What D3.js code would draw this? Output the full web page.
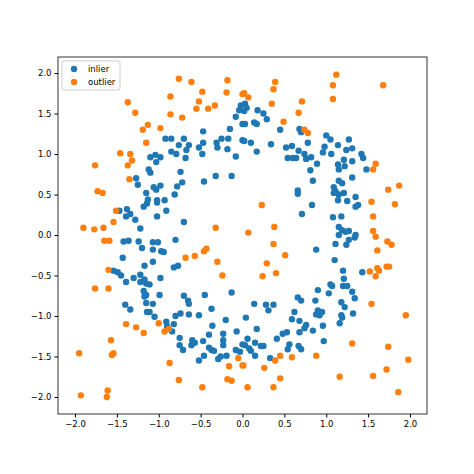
<!DOCTYPE html>
<html>
<head>
<meta charset="utf-8">
<script src="https://cdn.jsdelivr.net/npm/d3@7"></script>
<style>
  body { margin: 0; background: #fff; }
  text { font-family: "DejaVu Sans", sans-serif; }
</style>
</head>
<body>
<svg width="474" height="474"></svg>
<script>
// inlier punten [x, y]
var inliers = [
  [-0.47,1.28],[-0.92,1.19],[-0.85,1.19],[-0.70,1.19],[-0.76,1.11],[-0.64,1.11],[-0.85,1.03],[-0.79,1.00],
  [-0.67,1.05],[-0.52,1.08],[-0.47,1.14],[-0.31,1.14],[-0.25,1.19],[-0.17,1.19],[-0.30,1.08],[-0.18,1.06],
  [-0.48,1.00],[-0.68,0.95],[-1.04,0.99],[-1.10,0.96],[-0.98,0.96],[-1.03,0.90],[-1.12,0.81],[-1.10,0.77],
  [-0.74,0.78],[-1.27,0.70],[-1.25,0.62],[-0.72,0.65],[-0.78,0.60],[-1.06,0.59],[-0.98,0.61],[-1.03,0.56],
  [-1.15,0.52],[-0.81,0.50],[-1.13,0.44],[-1.02,0.43],[-1.02,0.40],[-0.93,0.43],[-1.18,0.35],[-1.14,0.39],
  [-0.91,0.30],[-1.38,0.32],[-1.47,0.30],[-1.39,0.23],[-1.34,0.26],[-1.28,0.19],[-1.02,0.23],[-0.70,0.16],
  [-1.22,0.08],[-0.32,0.73],[-0.13,0.73],[-0.46,0.66],[-0.08,0.97],[-0.15,1.31],[-0.08,1.46],[-0.04,1.54],
  [-0.02,1.60],[0.00,1.37],[0.00,1.17],
  [0.03,1.62],[0.05,1.57],[0.02,1.53],[0.03,1.37],[0.18,1.54],[0.25,1.50],[0.29,1.43],[0.14,1.39],[0.17,1.37],
  [0.02,1.16],[0.10,1.14],[0.17,1.03],[0.34,1.12],[0.45,1.30],[0.68,1.31],[0.70,1.27],[0.78,1.14],[0.52,1.08],
  [0.59,1.10],[0.67,1.04],[0.74,1.00],[0.82,0.96],[0.76,0.94],[0.54,0.95],[0.60,0.95],[0.64,0.95],[0.89,0.88],
  [0.81,0.80],[0.84,0.67],[1.00,1.23],[1.05,1.18],[0.98,1.09],[0.96,1.02],[1.06,1.00],[1.14,1.11],[1.27,1.18],
  [1.24,1.05],[1.31,1.07],[1.42,1.00],[1.44,0.95],[1.14,0.87],[1.21,0.93],[1.22,0.85],[1.15,0.81],[1.31,0.91],
  [1.31,0.71],[1.48,0.81],[1.15,0.67],[1.19,0.64],[1.09,0.59],[1.11,0.54],[1.09,0.52],[1.21,0.52],[1.15,0.50],
  [1.14,0.43],[1.25,0.42],[1.35,0.47],[1.38,0.37],[1.35,0.35],[0.66,0.55],[0.66,0.51],[0.83,0.37],[0.71,0.26],
  [1.08,0.22],[1.18,0.23],[1.15,0.10],[1.19,0.06],[1.27,0.05],[1.35,0.00],[1.23,0.04],
  [-1.42,-0.08],[-1.36,-0.07],[-1.24,-0.08],[-1.07,-0.09],[-1.01,-0.09],[-1.20,-0.16],[-1.07,-0.18],[-0.97,-0.20],
  [-0.94,-0.21],[-0.80,-0.06],[-1.43,-0.28],[-1.07,-0.33],[-1.17,-0.38],[-0.82,-0.40],[-0.77,-0.38],[-1.54,-0.44],
  [-1.49,-0.46],[-1.45,-0.50],[-1.22,-0.49],[-1.30,-0.53],[-0.98,-0.53],[-1.39,-0.58],[-1.22,-0.58],[-1.17,-0.55],
  [-1.15,-0.60],[-1.11,-0.61],[-1.18,-0.69],[-1.17,-0.76],[-1.15,-0.74],[-0.99,-0.74],[-1.15,-0.84],[-1.07,-0.85],
  [-1.40,-0.86],[-1.34,-0.92],[-1.14,-0.95],[-1.11,-0.95],[-1.05,-1.01],[-0.80,-1.00],[-0.74,-0.97],[-0.70,-0.75],
  [-0.65,-0.81],[-0.64,-0.85],[-0.64,-0.98],[-0.52,-0.99],[-0.45,-0.74],[-0.37,-0.91],[-0.13,-0.71],[-0.91,-1.07],
  [-0.82,-1.10],[-0.90,-1.13],[-0.84,-1.19],[-0.75,-1.27],[-0.75,-1.36],[-0.71,-1.42],[-0.61,-1.36],[-0.60,-1.30],
  [-0.57,-1.33],[-0.47,-1.31],[-0.40,-1.23],[-0.36,-1.12],[-0.20,-1.05],[-0.23,-1.22],[-0.23,-1.30],[-0.23,-1.36],
  [-0.40,-1.39],[-0.37,-1.42],[-0.34,-1.43],[-0.46,-1.49],[-0.52,-1.55],[-0.29,-1.53],[-0.26,-1.50],[-0.19,-1.49],
  [-0.07,-1.19],[-0.08,-1.42],[-0.03,-1.44],[0.00,-1.35],
  [0.88,-0.18],[1.11,-0.11],[1.24,-0.12],[1.27,-0.06],[1.34,-0.03],[1.15,0.00],[1.10,-0.31],[1.20,-0.44],
  [1.21,-0.54],[1.43,-0.46],[1.05,-0.61],[1.07,-0.63],[1.20,-0.63],[1.25,-0.63],[1.31,-0.70],[1.34,-0.78],
  [1.03,-0.72],[0.90,-0.68],[0.66,-0.77],[0.70,-0.81],[0.87,-0.81],[1.18,-0.83],[1.22,-0.89],[1.18,-0.99],
  [1.19,-1.02],[1.16,-1.09],[1.32,-0.97],[0.88,-0.98],[0.92,-0.99],[0.95,-0.95],[0.90,-0.93],[0.62,-0.95],
  [0.59,-1.04],[0.68,-1.06],[0.76,-1.11],[0.74,-1.15],[0.68,-1.20],[0.84,-1.18],[0.96,-1.12],[0.97,-1.31],
  [0.53,-1.20],[0.48,-1.22],[0.41,-1.28],[0.56,-1.35],[0.54,-1.41],[0.67,-1.37],[0.70,-1.41],[0.14,-0.85],
  [0.28,-0.86],[0.37,-0.86],[0.31,-0.93],[0.04,-1.02],[0.17,-1.16],[0.06,-1.28],[0.15,-1.33],[0.22,-1.37],
  [0.25,-1.37],[0.03,-1.36],[0.08,-1.40],[0.10,-1.43],[0.15,-1.49],[0.33,-1.52]
];

// outlier punten [x, y]
var outliers = [
  [-0.76,1.93],[-0.61,1.89],[-0.18,1.91],[-0.48,1.77],[-0.19,1.76],[0.00,1.74],[-1.37,1.64],[-0.86,1.71],
  [-0.52,1.65],[-0.55,1.56],[-0.41,1.56],[-0.33,1.60],[-1.28,1.51],[-0.86,1.49],[-0.72,1.45],[-1.19,1.30],
  [-1.13,1.36],[-0.98,1.32],[-1.15,1.14],[-1.46,1.01],[-1.34,1.00],[-1.32,0.92],[-1.37,0.86],[-1.76,0.86],
  [-1.35,0.69],[-1.73,0.54],[-1.67,0.52],[-1.51,0.30],[-1.54,0.16],[-1.90,0.09],[-1.77,0.07],[-1.66,0.09],
  [-0.32,0.09],
  [1.12,1.98],[1.08,1.85],[1.68,1.85],[1.08,1.68],[0.39,1.89],[0.37,1.80],[0.35,1.62],[0.71,1.65],[0.67,1.51],
  [0.49,1.40],[0.74,1.30],[0.78,1.26],[0.02,1.75],[0.07,1.70],[1.59,0.88],[1.56,0.81],[1.74,0.56],[1.87,0.61],
  [1.54,0.41],[1.82,0.38],[1.56,0.23],[1.56,0.05],[0.23,0.37],[0.38,0.10],[0.07,0.03],
  [-1.65,-0.07],[-1.59,-0.07],[-1.60,-0.43],[-1.76,-0.66],[-1.60,-0.66],[-1.39,-1.10],[-1.27,-1.14],[-1.18,-1.21],
  [-1.57,-1.30],[-1.95,-1.46],[-1.56,-1.48],[-1.54,-1.46],[-1.93,-1.98],[-1.61,-1.92],[-1.62,-2.00],[-1.00,-1.09],
  [-0.93,-1.19],[-0.88,-1.16],[-0.87,-1.58],[-0.76,-1.79],[-0.48,-1.88],[-0.68,-0.28],[-0.57,-0.26],[-0.46,-0.20],
  [-0.43,-0.17],[-0.30,-0.33],[-0.24,-0.50],[-0.16,-1.62],[-0.18,-1.78],[-0.13,-1.80],[-0.05,-1.52],[0.00,-1.61],
  [0.37,-0.11],[0.51,-0.25],[0.29,-0.35],[0.24,-0.51],[0.40,-0.47],[1.59,-0.02],[1.73,-0.08],[1.78,-0.12],
  [1.61,-0.19],[1.52,-0.45],[1.61,-0.41],[1.63,-0.44],[1.72,-0.39],[1.75,-0.39],[1.59,-0.51],[1.54,-0.85],
  [1.95,-0.99],[1.31,-1.34],[1.74,-1.38],[1.98,-1.54],[1.72,-1.66],[1.56,-1.74],[1.16,-1.75],[1.86,-1.94],
  [0.88,-1.49],[0.59,-1.51],[0.45,-1.49],[0.39,-1.55],[0.26,-1.64],[0.45,-1.77],[0.37,-1.88],[0.06,-1.88],
  [0.01,-1.61]
];

var ticks = [-2.0, -1.5, -1.0, -0.5, 0.0, 0.5, 1.0, 1.5, 2.0];

var svg = d3.select("svg"),
    margin = {top: 57, right: 47, bottom: 60, left: 58},
    width = 474 - margin.left - margin.right,
    height = 474 - margin.top - margin.bottom;

var x = d3.scaleLinear().domain([-2.203, 2.203]).range([0, width]),
    y = d3.scaleLinear().domain([-2.21, 2.198]).range([height, 0]);

var g = svg.append("g")
    .attr("transform", "translate(" + margin.left + "," + margin.top + ")");

// assen
g.append("g")
    .attr("transform", "translate(0," + height + ")")
    .call(d3.axisBottom(x).tickValues(ticks).tickFormat(d3.format(".1f")).tickSize(3.5).tickPadding(3))
    .call(function(a) { a.select(".domain").remove(); })
    .selectAll("text").attr("font-size", 8.5).attr("fill", "#000");

g.append("g")
    .call(d3.axisLeft(y).tickValues(ticks).tickFormat(d3.format(".1f")).tickSize(3.5).tickPadding(3))
    .call(function(a) { a.select(".domain").remove(); })
    .selectAll("text").attr("font-size", 8.5).attr("fill", "#000");

// punten
g.selectAll(".inlier")
  .data(inliers)
  .enter().append("circle")
    .attr("cx", function(d) { return x(d[0]); })
    .attr("cy", function(d) { return y(d[1]); })
    .attr("r", 3.2)
    .attr("fill", "#1f77b4");

g.selectAll(".outlier")
  .data(outliers)
  .enter().append("circle")
    .attr("cx", function(d) { return x(d[0]); })
    .attr("cy", function(d) { return y(d[1]); })
    .attr("r", 3.2)
    .attr("fill", "#ff7f0e");

// kader
g.append("rect")
    .attr("width", width).attr("height", height)
    .attr("fill", "none").attr("stroke", "#000").attr("stroke-width", 0.8);

// legenda
var legend = g.append("g").attr("transform", "translate(4,4)");
legend.append("rect")
    .attr("width", 58).attr("height", 29).attr("rx", 2)
    .attr("fill", "#fff").attr("fill-opacity", 0.8).attr("stroke", "#ccc");
[["inlier", "#1f77b4"], ["outlier", "#ff7f0e"]].forEach(function(d, i) {
  legend.append("circle").attr("cx", 12).attr("cy", 8 + i * 13).attr("r", 3.2).attr("fill", d[1]);
  legend.append("text").attr("x", 26).attr("y", 11 + i * 13).attr("font-size", 8.5).text(d[0]);
});
</script>
</body>
</html>
